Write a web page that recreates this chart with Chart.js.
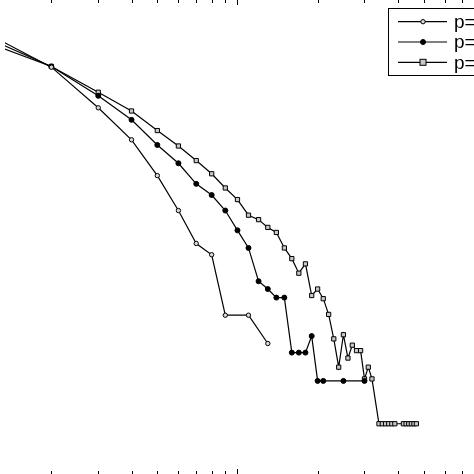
<!DOCTYPE html>
<html>
<head>
<meta charset="utf-8">
<script src="https://cdn.jsdelivr.net/npm/chart.js@4.4.1/dist/chart.umd.min.js"></script>
<style>
  html, body { margin: 0; padding: 0; background: #fff; overflow: hidden; }
  #wrap { width: 474px; height: 474px; }
</style>
</head>
<body>
<div id="wrap"><canvas id="plot" width="474" height="474"></canvas></div>
<script>
// degree k and P(k) for each curve
var seriesLabels = ['p=0.1', 'p=0.5', 'p=0.9'];

var kCircle = [1, 2, 3, 4, 5, 6, 7, 8, 9, 11, 13];
var pCircle = [0.61, 0.218, 0.0806, 0.0368, 0.0153, 0.0065, 0.0029, 0.0022, 0.0005, 0.0005, 0.00025];

var kFilled = [1, 2, 3, 4, 5, 6, 7, 8, 9, 10, 11, 12, 13, 14, 15, 16, 17, 18, 19, 20, 21, 25, 30];
var pFilled = [0.53, 0.222, 0.108, 0.060, 0.0324, 0.0207, 0.0125, 0.0095, 0.0065, 0.0040, 0.0026,
               0.00115, 0.00095, 0.00077, 0.00077, 0.0002, 0.0002, 0.0002, 0.0003, 0.0001, 0.0001, 0.0001, 0.0001];

var kSquare = [1, 2, 3, 4, 5, 6, 7, 8, 9, 10, 11, 12, 13, 14, 15, 16, 17, 18, 19, 20, 21, 22, 23, 24,
               25, 26, 27, 28, 29, 30, 31, 32, 34, 35, 36, 37, 38, 39, 42, 43, 44, 45, 46, 47];
var pSquare = [0.462, 0.222, 0.118, 0.0745, 0.0461, 0.0316, 0.0221, 0.016, 0.0113, 0.0085, 0.0058, 0.0052,
               0.0043, 0.0038, 0.0026, 0.0020, 0.0014, 0.00176, 0.00081, 0.00095, 0.00075, 0.00051, 0.00028, 0.00014,
               0.00031, 0.000175, 0.00024, 0.00021, 0.00021, 0.000105, 0.00014, 0.000105,
               0.000035, 0.000035, 0.000035, 0.000035, 0.000035, 0.000035,
               0.000035, 0.000035, 0.000035, 0.000035, 0.000035, 0.000035];

// tick marks on the x axis (log)
var xTicks = [2, 3, 4, 5, 6, 7, 8, 9, 10, 20, 30, 40, 50, 60, 70];
var xMajor = [10];

function pts(ks, ps) {
    var out = [];
    for (var i = 0; i < ks.length; i++) {
        out.push({x: ks[i], y: ps[i]});
    }
    return out;
}

var tickPlugin = {
    id: 'inTicks',
    afterDraw: function(chart) {
        var ctx = chart.ctx;
        var sx = chart.scales.x;
        var h = chart.height;
        ctx.save();
        ctx.strokeStyle = '#000';
        ctx.lineWidth = 1;
        for (var i = 0; i < xTicks.length; i++) {
            var px = Math.round(sx.getPixelForValue(xTicks[i])) + 0.5;
            var len = xMajor.indexOf(xTicks[i]) >= 0 ? 5 : 3;
            ctx.beginPath();
            ctx.moveTo(px, 0);
            ctx.lineTo(px, len);
            ctx.moveTo(px, h);
            ctx.lineTo(px, h - len);
            ctx.stroke();
        }
        ctx.restore();
    }
};

var legendPlugin = {
    id: 'boxLegend',
    afterDraw: function(chart) {
        var ctx = chart.ctx;
        var ds = chart.data.datasets;
        var left = 388.5, top = 8.5, rowH = 20.3;
        ctx.save();
        ctx.fillStyle = '#fff';
        ctx.fillRect(left, top, chart.width, 67);
        ctx.strokeStyle = '#000';
        ctx.lineWidth = 1;
        ctx.strokeRect(left, top, chart.width, 67);
        ctx.font = '19px "Liberation Sans", Arial, sans-serif';
        ctx.textBaseline = 'middle';
        for (var i = 0; i < ds.length; i++) {
            var y = 21.7 + i * rowH;
            ctx.beginPath();
            ctx.moveTo(398, y);
            ctx.lineTo(447, y);
            ctx.lineWidth = 1.2;
            ctx.strokeStyle = '#000';
            ctx.stroke();
            ctx.lineWidth = 1;
            ctx.fillStyle = ds[i].pointBackgroundColor;
            ctx.strokeStyle = '#000';
            if (ds[i].pointStyle === 'rect') {
                ctx.fillRect(420, y - 3, 6, 6);
                ctx.strokeRect(420, y - 3, 6, 6);
            } else {
                ctx.beginPath();
                ctx.arc(423, y, ds[i].pointRadius, 0, Math.PI * 2);
                ctx.fill();
                ctx.stroke();
            }
            ctx.fillStyle = '#000';
            ctx.fillText(ds[i].label, 454, y + 1);
        }
        ctx.restore();
    }
};

var ctx = document.getElementById('plot').getContext('2d');
var myChart = new Chart(ctx, {
    type: 'line',
    data: {
        datasets: [{
            label: seriesLabels[0],
            data: pts(kCircle, pCircle),
            borderColor: '#000',
            borderWidth: 1.2,
            pointStyle: 'circle',
            pointRadius: 2.2,
            pointBackgroundColor: '#d8d8d8',
            pointBorderColor: '#000',
            pointBorderWidth: 1
        }, {
            label: seriesLabels[1],
            data: pts(kFilled, pFilled),
            borderColor: '#000',
            borderWidth: 1.2,
            pointStyle: 'circle',
            pointRadius: 2.5,
            pointBackgroundColor: '#000',
            pointBorderColor: '#000',
            pointBorderWidth: 1
        }, {
            label: seriesLabels[2],
            data: pts(kSquare, pSquare),
            borderColor: '#000',
            borderWidth: 1.2,
            pointStyle: 'rect',
            pointRadius: 3,
            pointBackgroundColor: '#c8c8c8',
            pointBorderColor: '#000',
            pointBorderWidth: 1
        }]
    },
    options: {
        responsive: false,
        animation: false,
        events: [],
        layout: { padding: 0 },
        plugins: {
            legend: { display: false },
            tooltip: { enabled: false }
        },
        elements: { line: { tension: 0 } },
        scales: {
            x: {
                type: 'logarithmic',
                display: false,
                min: 1.339,
                max: 74.07
            },
            y: {
                type: 'logarithmic',
                display: false,
                min: 1.155e-5,
                max: 1
            }
        }
    },
    plugins: [tickPlugin, legendPlugin]
});
</script>
</body>
</html>
